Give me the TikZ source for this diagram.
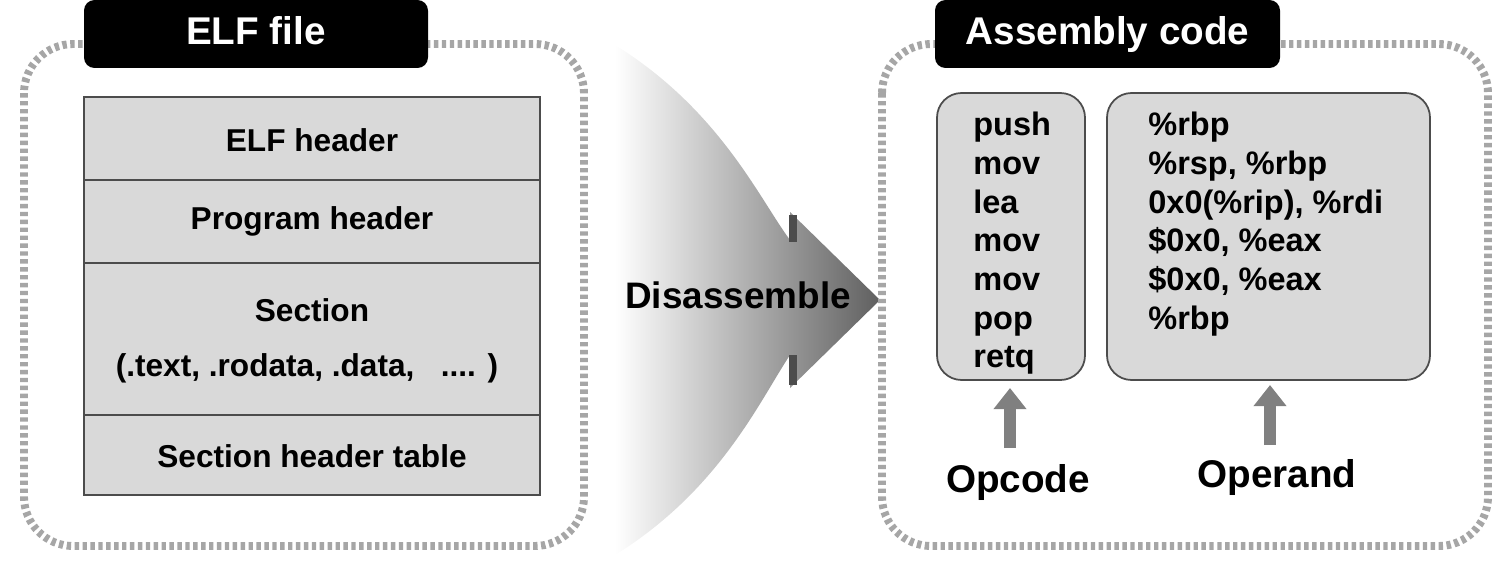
\documentclass[tikz,border=0pt]{standalone}
\usetikzlibrary{arrows.meta}
\usepackage{fontspec}
\setmainfont{Liberation Sans}
\begin{document}
\begin{tikzpicture}[x=0.02cm,y=-0.02cm,
  frame/.style={draw=gray!70,line width=4.5pt,dash pattern=on 2.5pt off 2pt,rounded corners=28pt,fill=white},
  title/.style={fill=black,rounded corners=6pt,text=white,font=\bfseries\fontsize{22}{26}\selectfont,inner sep=0pt,text height=16pt,text depth=4pt},
  row/.style={draw=gray!60!black,line width=1pt,fill=gray!30},
  rt/.style={font=\bfseries\fontsize{18}{21}\selectfont},
  box/.style={draw=gray!60!black,line width=1pt,fill=gray!30,rounded corners=14pt},
  code/.style={font=\bfseries\fontsize{18.5}{22}\selectfont,align=left,anchor=north west,inner sep=0pt},
  up/.style={draw=gray,line width=7pt,-{Triangle[length=12pt,width=18pt]}},
  lab/.style={font=\bfseries\fontsize{22}{26}\selectfont}]
\useasboundingbox (0,0) rectangle (1500,571);
% left frame
\draw[frame] (24,44) rectangle (584,546);
\node[title,minimum width=344*0.02cm,minimum height=68*0.02cm] (t1) at (256,34) {ELF file};
\draw[row] (84,97) rectangle (540,180);
\draw[row] (84,180) rectangle (540,263);
\draw[row] (84,263) rectangle (540,415);
\draw[row] (84,415) rectangle (540,495);
\node[rt] (r1) at (312,140) {ELF header};
\node[rt] (r2) at (312,221) {Program header};
\node[rt] (r3) at (312,310) {Section};
\node[rt] (r3b) at (307,368) {(.text, .rodata, .data, \ \ .... )};
\node[rt] (r4) at (312,456) {Section header table};
% funnel arrow
\shade[left color=white,right color=gray!75!black]
  (615,45) .. controls (720,110) and (760,200) .. (790,240) -- (790,212) -- (880,300) -- (790,388) -- (790,355)
  .. controls (760,400) and (720,490) .. (615,555) -- cycle;
\draw[gray!60!black,line width=5pt] (793,215) -- (793,242);
\draw[gray!60!black,line width=5pt] (793,355) -- (793,385);
\node[lab,font=\bfseries\fontsize{21}{25}\selectfont] (dis) at (738,295) {Disassemble};
% right frame
\draw[frame] (882,44) rectangle (1488,546);
\node[title,minimum width=345*0.02cm,minimum height=68*0.02cm] (t2) at (1107.5,34) {Assembly code};
\draw[box] (937,93) rectangle (1085,380);
\draw[box] (1107,93) rectangle (1430,380);
\node[code] (op) at (973,112) {push\\mov\\lea\\mov\\mov\\pop\\retq};
\node[code] (opd) at (1148,112) {\%rbp\\\%rsp, \%rbp\\0x0(\%rip), \%rdi\\\$0x0, \%eax\\\$0x0, \%eax\\\%rbp};
\coordinate (a1s) at (1010,448); \coordinate (a1e) at (1010,388);
\coordinate (a2s) at (1270,445); \coordinate (a2e) at (1270,385);
\draw[up] (a1s) -- (a1e);
\draw[up] (a2s) -- (a2e);
\node[lab] (l1) at (1018,483) {Opcode};
\node[lab] (l2) at (1277,478) {Operand};
\end{tikzpicture}
\end{document}
